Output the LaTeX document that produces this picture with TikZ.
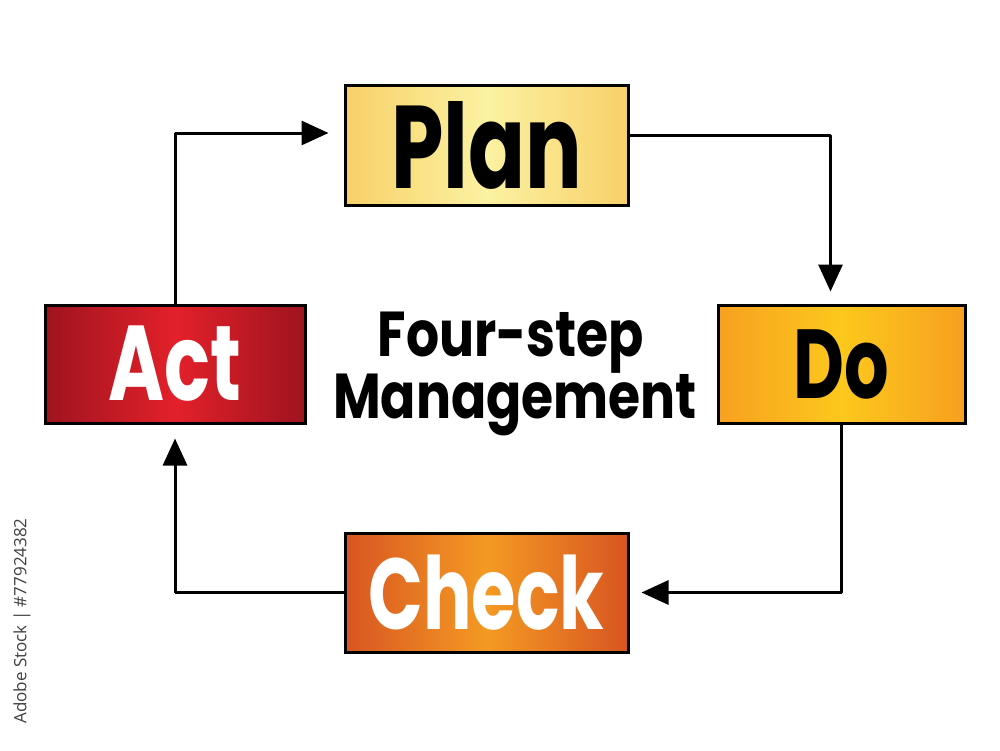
\documentclass[tikz,border=0pt]{standalone}
\usepackage{fontspec}
\setmainfont{Poppins}
\newfontfamily\wmfont{Open Sans}
\usetikzlibrary{arrows.meta}
\definecolor{planA}{HTML}{F8D068}
\definecolor{planB}{HTML}{FBF2A2}
\definecolor{doA}{HTML}{F7A020}
\definecolor{doB}{HTML}{FCC81C}
\definecolor{chkA}{HTML}{D85522}
\definecolor{chkB}{HTML}{F49A22}
\definecolor{actA}{HTML}{9E141E}
\definecolor{actB}{HTML}{E3202A}
\newcommand{\hwtxt}[2]{\fontsize{#1}{#1}\selectfont\bfseries\scalebox{1}[1.4]{#2}}
\tikzset{
  stagebox/.style={draw=black, line width=3pt, rectangle, inner sep=0pt},
  conn/.style={line width=3pt, line join=round, -{Triangle[length=27pt,width=24pt]}},
}
\begin{document}
\begin{tikzpicture}[x=1pt,y=-1pt]
\useasboundingbox (0,0) rectangle (1000,750);
\fill[white] (0,0) rectangle (1000,750);

\node[stagebox, minimum width=283pt, minimum height=120pt,
      left color=planA, right color=planA, middle color=planB,
      text=black] (Plan) at (486.5,145) {\hwtxt{84}{Plan}};
\node[stagebox, minimum width=247pt, minimum height=118pt,
      left color=doA, right color=doA, middle color=doB,
      text=black] (Do) at (841.5,364) {\hwtxt{70}{Do}};
\node[stagebox, minimum width=283pt, minimum height=119pt,
      left color=chkA, right color=chkA, middle color=chkB,
      text=white] (Check) at (486.5,592.5) {\hwtxt{72}{Check}};
\node[stagebox, minimum width=260pt, minimum height=118pt,
      left color=actA, right color=actA, middle color=actB,
      text=white] (Act) at (175,364) {\hwtxt{76}{Act}};

\node[anchor=base, inner sep=0pt] (t1) at (511,356) {\fontsize{52}{52}\selectfont\bfseries\scalebox{1}[1.22]{Four-step}};
\node[anchor=base, inner sep=0pt] (t2) at (515,418) {\fontsize{52}{52}\selectfont\bfseries\scalebox{1}[1.22]{Management}};

\draw[conn] ([yshift=10pt]Plan.east) -| ([xshift=-11pt,yshift=12pt]Do.north);
\draw[conn] (Do.south) |- ([xshift=12pt]Check.east);
\draw[conn] (Check.west) -| ([yshift=-14pt]Act.south);
\draw[conn] (Act.north) |- ([xshift=-15pt,yshift=12pt]Plan.west);

\node[rotate=90, text=black!75, inner sep=0pt] (wm) at (22,621) {\wmfont\fontsize{17}{17}\selectfont Adobe Stock | \#77924382};
\end{tikzpicture}
\end{document}
